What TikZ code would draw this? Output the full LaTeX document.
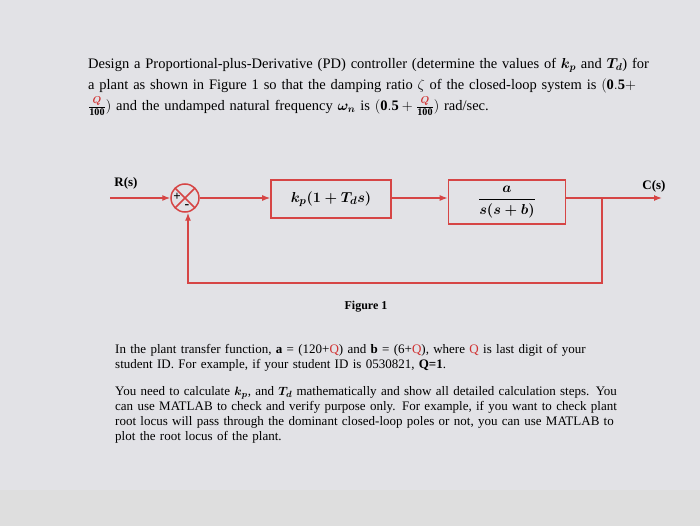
\documentclass[tikz,border=0pt]{standalone}
\usepackage{fontspec}
\setmainfont{Liberation Serif}
\usepackage{amsmath}
\usetikzlibrary{arrows.meta}
\definecolor{lr}{HTML}{D64545}
\definecolor{bg}{HTML}{E2E2E6}
\definecolor{qr}{HTML}{D03030}
\begin{document}
\begin{tikzpicture}[x=1pt,y=-1pt,
  blk/.style={draw=lr,line width=1.6pt,minimum height=38pt,inner sep=2pt},
  sig/.style={draw=lr,line width=1.3pt,-{Latex[length=8pt,width=6pt]}},
  para/.style={anchor=north west,align=left,inner sep=0pt,text width=#1}]
\fill[bg] (0,0) rectangle (700,526);
\fill[black!13] (0,490) rectangle (700,526);
\useasboundingbox (0,0) rectangle (700,526);
\node[para=570pt,font=\fontsize{14.5}{21}\selectfont] (p1) at (88,58)
 {\raggedright Design a Proportional-plus-Derivative (PD) controller (determine the values of $\boldsymbol{k_p}$ and $\boldsymbol{T_d}$) for a plant as shown in Figure 1 so that the damping ratio $\zeta$ of the closed-loop system is $(\mathbf{0.5}+$\\
 $\frac{\color{qr}\boldsymbol{Q}}{\mathbf{100}})$ and the undamped natural frequency $\boldsymbol{\omega_n}$ is $(\mathbf{0.5}+\frac{\color{qr}\boldsymbol{Q}}{\mathbf{100}})$ rad/sec.};
\node[circle,draw=lr,line width=1.5pt,minimum size=28pt,inner sep=0pt] (sum) at (185,198) {};
\draw[lr,line width=1.5pt] ([shift={(45:14)}]sum.center) -- ([shift={(225:14)}]sum.center)
 ([shift={(135:14)}]sum.center) -- ([shift={(-45:14)}]sum.center);
\node[font=\bfseries\fontsize{13}{13}\selectfont] (pl) at (177,197) {+};
\node[font=\bfseries\fontsize{14}{14}\selectfont] (mi) at (187,207) {-};
\node[font=\bfseries\fontsize{13}{15}\selectfont] (R) at (126,183) {R(s)};
\node[font=\bfseries\fontsize{13}{15}\selectfont] (C) at (654,186) {C(s)};
\coordinate (in) at (110,198);
\node[blk,minimum width=120pt,font=\fontsize{15}{17}\selectfont] (g1) at (331,199) {$\boldsymbol{k_p(1+T_d s)}$};
\node[blk,minimum width=117pt,minimum height=44pt,font=\fontsize{15}{17}\selectfont] (g2) at (507,202) {$\boldsymbol{\dfrac{a}{s(s+b)}}$};
\coordinate (out) at (662,198);
\coordinate (br) at (602,198);
\coordinate (b1) at (602,283);
\coordinate (b2) at (188,283);
\draw[sig] (in) -- (sum);
\draw[sig] (sum) -- (g1.west|-sum);
\draw[sig] (g1.east|-sum) -- (g2.west|-sum);
\draw[sig] (g2.east|-sum) -- (out);
\draw[sig] (br) -- (b1) -- (b2) -- (sum.south-|b2);
\node[font=\bfseries\fontsize{12}{14}\selectfont] (fig) at (366,307) {Figure 1};
\node[para=530pt,font=\fontsize{13}{15}\selectfont] (p2) at (115,344)
 {\raggedright In the plant transfer function, \textbf{a} = (120+{\color{qr}Q}) and \textbf{b} = (6+{\color{qr}Q}), where {\color{qr}Q} is last digit of your\\ student ID. For example, if your student ID is 0530821, \textbf{Q=1}.\par\vspace{12pt}
 You need to calculate $\boldsymbol{k_p}$, and $\boldsymbol{T_d}$ mathematically and show all detailed calculation steps. You\\ can use MATLAB to check and verify purpose only. For example, if you want to check plant\\ root locus will pass through the dominant closed-loop poles or not, you can use MATLAB to\\ plot the root locus of the plant.};
\end{tikzpicture}
\end{document}
